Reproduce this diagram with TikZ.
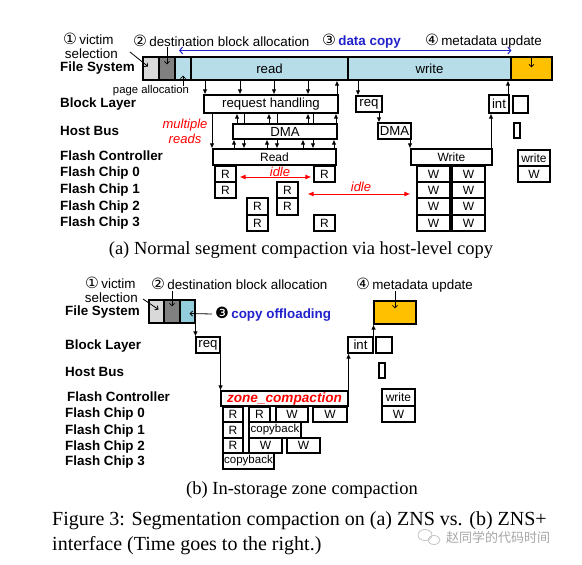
\documentclass[tikz,border=0pt]{standalone}
\usepackage{fontspec}
\setmainfont{Liberation Sans}
\newfontfamily\seriffam{Liberation Serif}
\newfontfamily\dvfam{DejaVu Sans}
\newfontfamily\cjkfam{Noto Sans CJK SC}
\usetikzlibrary{arrows.meta,calc}
\definecolor{lgray}{HTML}{D9D9D9}
\definecolor{dgray}{HTML}{808080}
\definecolor{lblue}{HTML}{B7DDE8}
\definecolor{lblueb}{HTML}{92CDDC}
\definecolor{orng}{HTML}{FFC000}
\definecolor{tblue}{HTML}{2222CC}
\definecolor{tred}{HTML}{FF0000}
\newcommand\bx[7][]{\node[box,minimum width={(#5-#3)*1pt},minimum height={(#6-#4)*1pt},#1] (#2) at ({(#3+#5)/2},{(#4+#6)/2}) {#7};}
\newcommand\fs[1]{\fontsize{#1}{#1}\selectfont}
\newcommand\cn[1]{{\dvfam\fs{15.5}#1}}
\begin{document}
\begin{tikzpicture}[x=1pt,y=-1pt,
  box/.style={draw,line width=1.1pt,inner sep=0pt,font=\fs{13.2}},
  sbox/.style={font=\fs{12}},
  lab/.style={anchor=west,inner sep=0pt,font=\bfseries\fs{13.4}},
  txt/.style={inner sep=0pt,font=\fs{13.4}},
  arr/.style={line width=0.9pt,-{Latex[length=5pt,width=4.5pt]}},
  arrt/.style={line width=0.8pt,-{Straight Barb[length=2.5pt,width=5pt]}},
  plain/.style={line width=0.9pt},
  redarr/.style={draw=tred,line width=1pt,{Latex[length=6pt,width=5pt]}-{Latex[length=6pt,width=5pt]}},
  bluearr/.style={draw=tblue,line width=1pt,{Straight Barb[length=3pt,width=7pt]}-{Straight Barb[length=3pt,width=7pt]}},
  redtxt/.style={inner sep=0pt,text=tred,font=\itshape\fs{13}},
  captxt/.style={inner sep=0pt,font=\seriffam\fs{18.5}},
  figcap/.style={inner sep=0pt,anchor=west,font=\seriffam\fs{20}}]
\fill[white] (0,0) rectangle (582,565);
\useasboundingbox (0,0) rectangle (582,565);

% ================= (a) =================
\node[lab] (fsA) at (60,68.5) {File System};
\node[lab] (blA) at (60,104) {Block Layer};
\node[lab] (hbA) at (60,131) {Host Bus};
\node[lab] (fcA) at (60,156) {Flash Controller};
\node[lab] (c0A) at (60,173) {Flash Chip 0};
\node[lab] (c1A) at (60,190) {Flash Chip 1};
\node[lab] (c2A) at (60,207) {Flash Chip 2};
\node[lab] (c3A) at (60,223) {Flash Chip 3};

\node[txt,anchor=west] (vicA) at (63,39) {\cn{①}\,victim};
\node[txt,anchor=east] (selA) at (118,54) {selection};
\node[txt,anchor=west] (dstA) at (133,41) {\cn{②}\,destination block allocation};
\node[txt,anchor=west] (dcA) at (322,41) {\cn{③}\,{\bfseries\color{tblue}data copy}};
\node[txt,anchor=west] (mtA) at (425,41) {\cn{④}\,metadata update};
\node[txt,font=\fs{11.3}] (paA) at (151,91) {page allocation};

\bx[fill=lgray]{lgA}{143}{57}{159}{80}{}
\bx[fill=dgray]{dgA}{159}{57}{175}{80}{}
\bx[fill=lblue]{pbA}{175}{57}{191}{80}{}
\bx[fill=lblue]{rdA}{191}{57}{348}{80}{read}
\bx[fill=lblue]{wrA}{348}{57}{511}{80}{write}
\bx[fill=orng]{mdA}{511}{57}{552}{80}{}

\draw[bluearr] ($(pbA.north)+(-4,-6)$) -- ($(mdA.north west)+(1,-6)$);
\draw[arrt] ([xshift=12pt,yshift=2pt]selA.east) -- ([xshift=-3pt,yshift=2pt]lgA.center);
\draw[arrt] ([yshift=9pt]dgA.north) -- ([yshift=-8pt]dgA.north);
\draw[arrt] (paA.north -| pbA.center) -- ([yshift=5pt]pbA.south);
\draw[arrt] (mdA.north) -- ([yshift=-11pt]mdA.north);

\bx{rhA}{204}{95}{338}{113}{request handling}
\bx{dmaA}{233}{124}{337}{139}{DMA}
\bx[sbox]{rdcA}{213}{149}{336}{165}{Read}
\bx{reqA}{356}{96}{382}{112}{req}
\bx{dmbA}{378}{123}{411}{139}{DMA}
\bx[sbox]{wcA}{411}{149}{492}{165}{Write}
\bx{intA}{489}{95}{509}{113}{int}
\bx{e1A}{513}{96}{528}{113}{}
\bx{e2A}{514}{123}{520}{138}{}
\bx[sbox]{wsA}{518}{150}{550}{166}{write}
\bx[sbox]{wsWA}{518}{166}{550}{182}{W}

% W boxes
\bx[sbox]{w0a}{417}{166}{450}{182}{W}
\bx[sbox]{w0b}{452}{166}{485}{182}{W}
\bx[sbox]{w1a}{417}{182}{450}{198}{W}
\bx[sbox]{w1b}{452}{182}{485}{198}{W}
\bx[sbox]{w2a}{417}{198}{450}{215}{W}
\bx[sbox]{w2b}{452}{198}{485}{215}{W}
\bx[sbox]{w3a}{417}{215}{450}{231}{W}
\bx[sbox]{w3b}{452}{215}{485}{231}{W}
% R boxes
\bx[sbox]{r0a}{215}{166}{236}{182}{R}
\bx[sbox]{r1a}{215}{182}{236}{198}{R}
\bx[sbox]{r0c}{314}{166}{335}{182}{R}
\bx[sbox]{r1b}{277}{182}{298}{198}{R}
\bx[sbox]{r2a}{247}{198}{268}{215}{R}
\bx[sbox]{r2b}{277}{198}{298}{215}{R}
\bx[sbox]{r3a}{247}{215}{268}{231}{R}
\bx[sbox]{r3c}{314}{215}{335}{231}{R}

% read -> request handling
\foreach \xx in {205,240,274,308} \draw[arr] (rdA.south -| \xx,0) -- (rhA.north -| \xx,0);
\draw[arr] (rhA.north -| 337,0) -- (rdA.south -| 337,0);
\draw[arr] (rhA.south -| 212,0) -- (rdcA.north -| 212,0);
\foreach \xx in {244,277,313} {
  \draw[plain] (rhA.south -| \xx,0) -- (dmaA.north -| \xx,0);
  \draw[arr] (dmaA.south -| \xx,0) -- (rdcA.north -| \xx,0);}
\foreach \xx in {237,269,308,336} \draw[arr] (dmaA.north -| \xx,0) -- (rhA.south -| \xx,0);
\foreach \xx in {234,267,303,334} \draw[arr] (rdcA.north -| \xx,0) -- (dmaA.south -| \xx,0);
% write path
\draw[arr] (wrA.south -| 358,0) -- (reqA.north -| 358,0);
\draw[arr] (reqA.south -| 379,0) -- (dmbA.north -| 379,0);
\draw[arr] (dmbA.south -| 410,0) -- (wcA.north -| 410,0);
\draw[arr] (wcA.north -| 491,0) -- (intA.south -| 491,0);
\draw[arr] (intA.north -| 508,0) -- (wrA.south -| 508,0);

\node[redtxt] (mrA) at (185,125) {multiple};
\node[redtxt] (mrB) at (185,139) {reads};
\draw[redarr] ([xshift=3pt,yshift=-3pt]r0a.east) -- ([xshift=-2pt,yshift=-3pt]r0c.west);
\node[redtxt] (id1) at (280,172) {idle};
\draw[redarr] ([xshift=9pt,yshift=-4pt]r1b.east) -- ([xshift=-6pt,yshift=-4pt]w1a.west);
\node[redtxt] (id2) at (361,187) {idle};

\node[captxt] (capA) at (301,250) {(a) Normal segment compaction via host-level copy};

% ================= (b) =================
\node[lab] (fsB) at (65,312) {File System};
\node[lab] (blB) at (65,346) {Block Layer};
\node[lab] (hbB) at (65,372) {Host Bus};
\node[lab] (fcB) at (67,397) {Flash Controller};
\node[lab] (c0B) at (65,414) {Flash Chip 0};
\node[lab] (c1B) at (65,431) {Flash Chip 1};
\node[lab] (c2B) at (65,447) {Flash Chip 2};
\node[lab] (c3B) at (65,462) {Flash Chip 3};

\node[txt,anchor=west] (vicB) at (85,282.5) {\cn{①}\,victim};
\node[txt,anchor=east] (selB) at (138,298) {selection};
\node[txt,anchor=west] (dstB) at (151,284) {\cn{②}\,destination block allocation};
\node[txt,anchor=west] (mtB) at (356,285) {\cn{④}\,metadata update};
\node[txt,anchor=west] (cpB) at (215,314) {\cn{❸}\,{\bfseries\color{tblue}copy offloading}};

\bx[fill=lgray]{lgB}{149}{300}{164}{323}{}
\bx[fill=dgray]{dgB}{164}{300}{180}{323}{}
\bx[fill=lblueb]{pbB}{180}{300}{195}{323}{}
\bx[fill=orng]{mdB}{374}{301}{416}{324}{}
\bx{reqB}{196}{337}{220}{353}{req}
\bx[font=\bfseries\itshape\fs{13.6},text=tred]{zcB}{221}{391}{348}{406}{zone\_compaction}
\bx{intB}{348}{337}{373}{353}{int}
\bx{e1B}{376}{337}{392}{353}{}
\bx{e2B}{379}{363}{385}{378}{}
\bx[sbox]{wsB}{382}{389}{415}{406}{write}
\bx[sbox]{wsWB}{382}{406}{415}{422}{W}

\bx[sbox]{b0a}{223}{407}{243}{422}{R}
\bx[sbox]{b0b}{249}{407}{270}{422}{R}
\bx[sbox]{b0c}{276}{407}{308}{422}{W}
\bx[sbox]{b0d}{313}{407}{347}{422}{W}
\bx[sbox]{b1a}{223}{422}{243}{438}{R}
\bx[font=\fs{11.5}]{b1b}{249}{422}{301}{438}{copyback}
\bx[sbox]{b2a}{223}{438}{243}{453}{R}
\bx[sbox]{b2b}{249}{438}{282}{453}{W}
\bx[sbox]{b2c}{287}{438}{320}{453}{W}
\bx[font=\fs{11.5}]{b3a}{223}{453}{274}{469}{copyback}

\draw[arrt] ([xshift=5pt,yshift=-1pt]selB.east) -- ([xshift=2pt,yshift=2pt]lgB.center);
\draw[arrt] ([yshift=8pt]dgB.north) -- ([yshift=-7pt]dgB.north);
\draw[arrt] ([xshift=-3pt]cpB.west) -- ([xshift=2pt,yshift=-2pt]pbB.center);
\draw[arrt] ([yshift=9pt]mdB.north) -- ([yshift=-8pt]mdB.north);
\draw[arr] (reqB.north west |- pbB.south) -- (reqB.north west);
\draw[arr] (reqB.south east) -- (reqB.south east |- zcB.north);
\draw[arr] (zcB.north east) -- (zcB.north east |- intB.south);
\draw[arr] (intB.north east) -- (intB.north east |- mdB.south);

\node[captxt] (capB) at (302,490) {(b) In-storage zone compaction};

\node[figcap] (fc1) at (52,521) {Figure 3: Segmentation compaction on (a) ZNS vs. (b) ZNS+};
\node[figcap] (fc2) at (52,546) {interface (Time goes to the right.)};

% watermark
\draw[black!25,line width=0.7pt] (425,535) ellipse (7 and 5.5);
\draw[black!25,line width=0.7pt] (434,540) ellipse (6 and 4.5);
\node[inner sep=0pt,anchor=west,text=black!35,font=\cjkfam\fs{13}] (wm) at (446,538) {赵同学的代码时间};
\end{tikzpicture}
\end{document}
